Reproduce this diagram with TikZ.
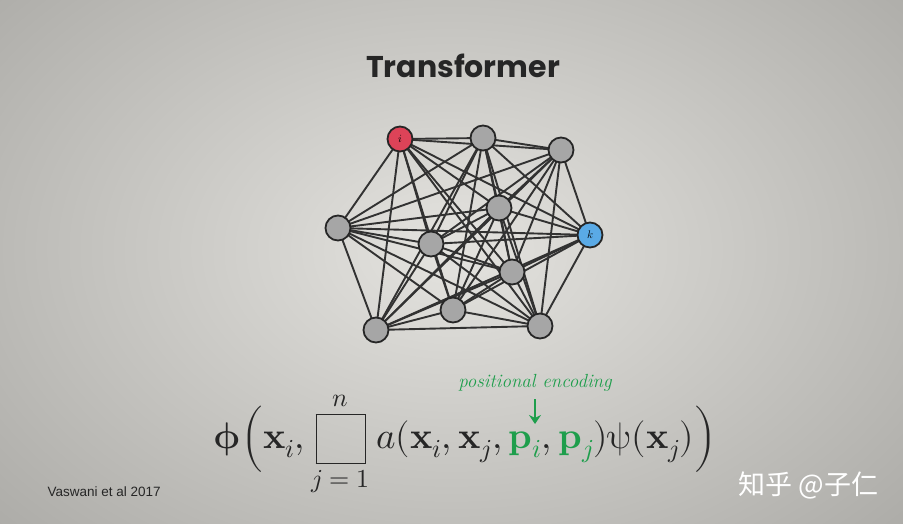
\documentclass[tikz,border=0pt]{standalone}
\usetikzlibrary{arrows.meta}
\usepackage{fontspec}
\usepackage{unicode-math}
\setmathfont{Latin Modern Math}
\newfontfamily\titlefont{Poppins}
\newfontfamily\notefont{Liberation Sans}
\newfontfamily\cjkfont{Noto Sans CJK SC}
\definecolor{bglight}{HTML}{E4E3DF}
\definecolor{bgdark}{HTML}{ACABA7}
\definecolor{edgecol}{HTML}{323232}
\definecolor{nodegray}{HTML}{A6A6A6}
\definecolor{nodered}{HTML}{DD4358}
\definecolor{nodeblue}{HTML}{5AAAE6}
\definecolor{encgreen}{HTML}{1E9E4C}
\definecolor{inkcol}{HTML}{262626}
\tikzset{
  gnode/.style={circle, draw=inkcol, line width=1.8pt, fill=nodegray, minimum size=25pt, inner sep=0pt, font=\fontsize{11}{11}\selectfont},
  edge/.style={draw=edgecol, line width=1.9pt},
}
\begin{document}
\begin{tikzpicture}[x=1pt,y=-1pt]
\useasboundingbox (0,0) rectangle (903,523);
\begin{scope}
\clip (0,0) rectangle (903,523);
\fill[bgdark] (0,0) rectangle (903,523);
\shade[inner color=bglight, outer color=bgdark] (451,250) ellipse (620 and 420);
\end{scope}
\node[font=\titlefont\bfseries\fontsize{30}{31}\selectfont, text=inkcol] (title) at (463,66) {Transformer};
% nodes coordinates
\coordinate (c1) at (400,139);
\coordinate (c2) at (483,138);
\coordinate (c3) at (561,150);
\coordinate (c4) at (338,228);
\coordinate (c5) at (499,208);
\coordinate (c6) at (431,244);
\coordinate (c7) at (590,235);
\coordinate (c8) at (512,272);
\coordinate (c9) at (453,310);
\coordinate (c10) at (376,330);
\coordinate (c11) at (540,326);
\foreach \a in {1,...,11}{
  \foreach \b in {1,...,11}{
    \ifnum\a<\b \draw[edge] (c\a) -- (c\b); \fi
  }
}
\node[gnode, fill=nodered] (n1) at (c1) {$i$};
\node[gnode] (n2) at (c2) {};
\node[gnode] (n3) at (c3) {};
\node[gnode] (n4) at (c4) {};
\node[gnode] (n5) at (c5) {};
\node[gnode] (n6) at (c6) {};
\node[gnode, fill=nodeblue] (n7) at (c7) {$k$};
\node[gnode] (n8) at (c8) {};
\node[gnode] (n9) at (c9) {};
\node[gnode] (n10) at (c10) {};
\node[gnode] (n11) at (c11) {};
% formula
\node[anchor=base, inner sep=0pt, text=inkcol, font=\fontsize{37}{40}\selectfont] (formula) at (465,448)
 {$\symbfup{\phi}\Big(\symbf{x}_i,\mathop{\vcenter{\hbox{\setlength{\fboxsep}{0pt}\setlength{\fboxrule}{1pt}\framebox[50pt]{\rule{0pt}{48pt}}}}}\limits_{j\;=\;1}^{n} a(\symbf{x}_i,\symbf{x}_j,{\color{encgreen}\symbf{p}_i},{\color{encgreen}\symbf{p}_j})\uppsi(\symbf{x}_j)\Big)$};
\node[font=\itshape\fontsize{19}{20}\selectfont, text=encgreen] (enc) at (535,383) {positional encoding};
\coordinate (arrtip) at (535,424);
\draw[encgreen, line width=2.4pt, -{Stealth[length=9pt,width=12pt]}] (535,399) -- (arrtip);
\node[font=\notefont\fontsize{13.5}{14}\selectfont, text=inkcol, anchor=west] (cite) at (44,492) {Vaswani et al 2017};
\node[font=\cjkfont\fontsize{27}{28}\selectfont, text=white, anchor=west] (wm) at (735,485) {知乎 @子仁};
\end{tikzpicture}
\end{document}
